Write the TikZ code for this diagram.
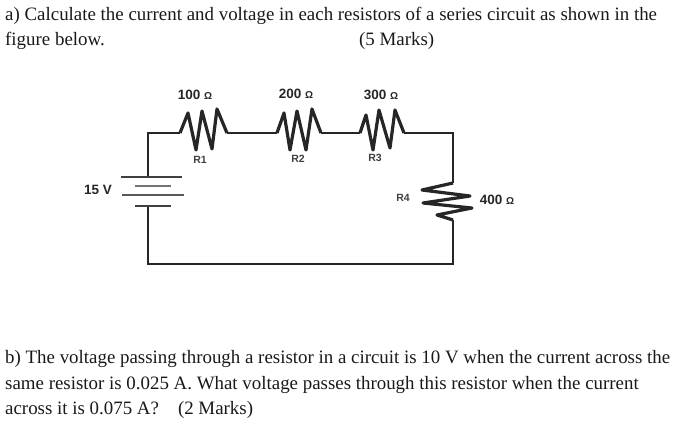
\documentclass[tikz,border=0pt]{standalone}
\usepackage{fontspec}
\setmainfont{Liberation Serif}
\newfontfamily\lblfont{Liberation Sans}
\tikzset{
  wire/.style={line width=2.9pt,black!85,line join=miter},
  zig/.style={line width=3.2pt,black!85,line join=round},
  plate/.style={line width=2pt,black!75},
  para/.style={anchor=base west,inner sep=0pt,font=\fontsize{18.9}{20}\selectfont,text=black!90},
  val/.style={inner sep=0pt,font=\lblfont\bfseries\fontsize{13.5}{14}\selectfont,black!85},
  tag/.style={inner sep=0pt,font=\lblfont\bfseries\fontsize{10.5}{11}\selectfont,black!75}
}
\newcommand{\ohm}{{\fontsize{10}{11}\selectfont Ω}}
\begin{document}
\begin{tikzpicture}[x=1pt,y=-1pt]
\useasboundingbox (0,0) rectangle (675,423);
% text
\node[para] (l1) at (5,20) {a) Calculate the current and voltage in each resistors of a series circuit as shown in the};
\node[para] (l2) at (5,45) {figure below.};
\node[para] (l3) at (359,45) {(5 Marks)};
\node[para] (l4) at (5,363) {b) The voltage passing through a resistor in a circuit is 10 V when the current across the};
\node[para] (l5) at (5,389) {same resistor is 0.025 A. What voltage passes through this resistor when the current};
\node[para] (l6) at (5,414) {across it is 0.075 A?\hspace{19pt}(2 Marks)};
% circuit coordinates
\coordinate (bt) at (148,176.5);
\coordinate (bb) at (148,206);
\coordinate (tl) at (148,133);
\coordinate (bl) at (148,264);
\coordinate (br) at (453,264);
\coordinate (tr) at (453,133);
\coordinate (r4a) at (453,183);
\coordinate (r4b) at (453,220);
\coordinate (r1a) at (180,133);
\coordinate (r1b) at (227,133);
\coordinate (r2a) at (277,133);
\coordinate (r2b) at (321,133);
\coordinate (r3a) at (360,133);
\coordinate (r3b) at (404,133);
% wires
\draw[wire] (bt) -- (tl) -- (r1a);
\draw[wire] (r1b) -- (r2a);
\draw[wire] (r2b) -- (r3a);
\draw[wire] (r3b) -- (tr) -- (r4a);
\draw[wire] (r4b) -- (br) -- (bl) -- (bb);
% resistors
\draw[zig] (r1a) -- (188,113) -- (196,150) -- (202,111) -- (212,149) -- (217,109) -- (r1b);
\draw[zig] (r2a) -- (284,113) -- (290,150) -- (297,111) -- (306,150) -- (312,109) -- (r2b);
\draw[zig] (r3a) -- (366,115) -- (373,150) -- (379,110) -- (390,148) -- (395,110) -- (r3b);
\draw[zig] (r4a) -- (422,190) -- (470,196) -- (423,203) -- (472,208) -- (437,215) -- (r4b);
% battery
\draw[plate] (121,176.5) -- (182,176.5);
\draw[plate,black!55] (135,186) -- (171,186);
\draw[plate,black!65] (122,195) -- (184,195);
\draw[plate,line width=2.5pt] (135,206) -- (171,206);
% labels
\node[val] (v1) at (195,95) {100 \ohm};
\node[val] (v2) at (296,94) {200 \ohm};
\node[val] (v3) at (381,95) {300 \ohm};
\node[val] (v4) at (497,200) {400 \ohm};
\node[val] (v5) at (98,189.5) {15 V};
\node[tag] (t1) at (200,160) {R1};
\node[tag] (t2) at (298,159) {R2};
\node[tag] (t3) at (375,158) {R3};
\node[tag] (t4) at (403,198) {R4};
\end{tikzpicture}
\end{document}
